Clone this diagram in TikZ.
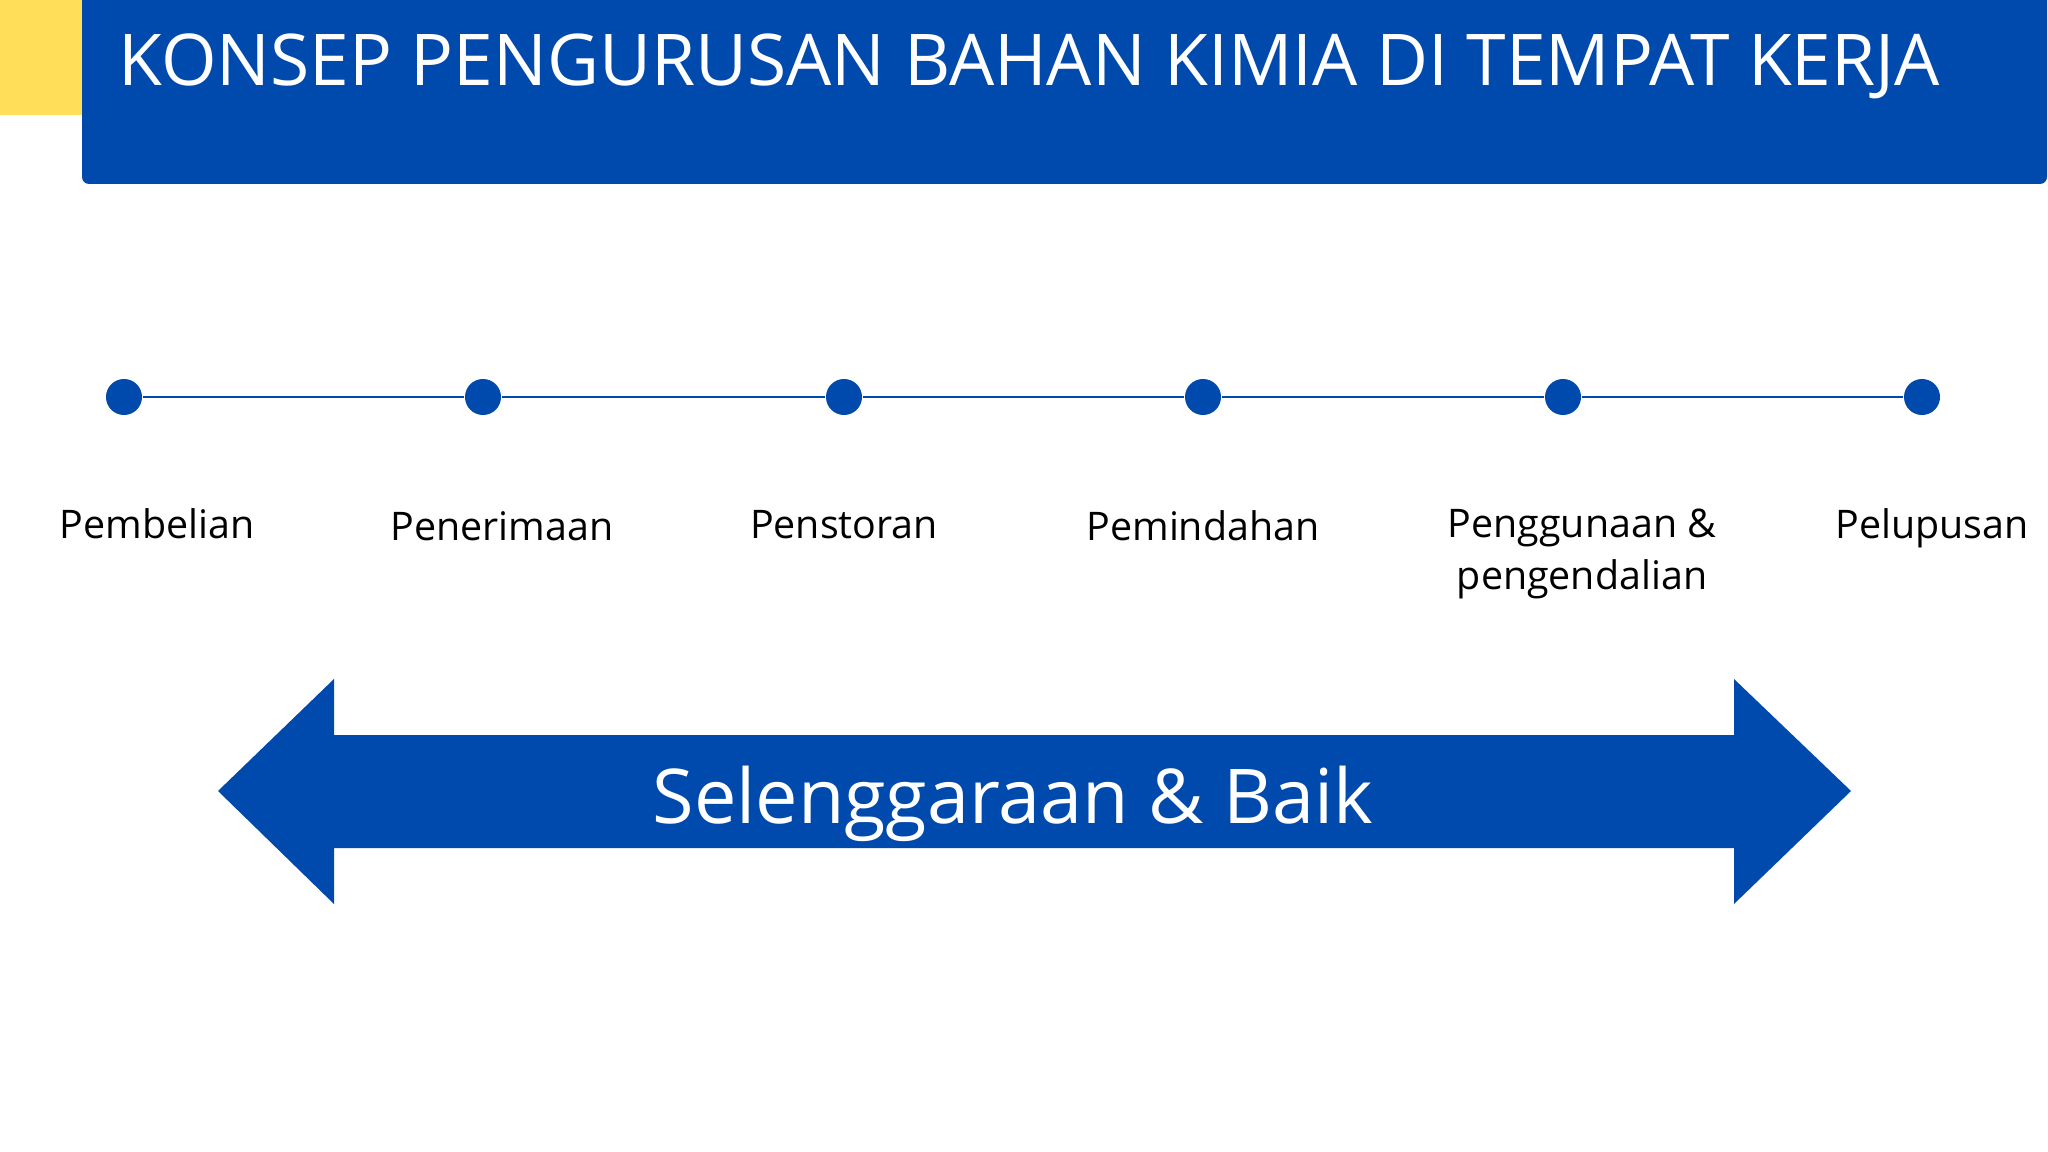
\documentclass[tikz,border=0pt]{standalone}
\usepackage{fontspec}
\setmainfont{Open Sans}
\usetikzlibrary{positioning}
\definecolor{kblue}{RGB}{0,74,173}
\definecolor{kyellow}{RGB}{255,222,89}
\tikzset{
  stagedot/.style={circle, fill=kblue, inner sep=0pt, minimum size=0.36cm},
  stage/.style={font=\fontsize{11.2}{14.8}\selectfont, align=center, inner sep=0pt, anchor=base},
}
\begin{document}
\begin{tikzpicture}[x=0.01cm, y=-0.01cm]
            \useasboundingbox (0,0) rectangle (2048,1152);
            % header
            \fill[kyellow] (0,0) rectangle (90,115);
            \fill[kblue, rounded corners=0.07cm] (82,-10) rectangle (2047,184);
            \node[anchor=base west, inner sep=0pt, text=white, font=\fontsize{20.3}{23}\selectfont] (title) at (118,86) {KONSEP PENGURUSAN BAHAN KIMIA DI TEMPAT KERJA};

            % timeline
            \node[stagedot] (d1) at (124,397) {};
            \node[stagedot] (d2) at (483,397) {};
            \node[stagedot] (d3) at (844,397) {};
            \node[stagedot] (d4) at (1203,397) {};
            \node[stagedot] (d5) at (1563,397) {};
            \node[stagedot] (d6) at (1922,397) {};
            \draw[kblue, line width=0.02cm] (d1) -- (d2);
            \draw[kblue, line width=0.02cm] (d2) -- (d3);
            \draw[kblue, line width=0.02cm] (d3) -- (d4);
            \draw[kblue, line width=0.02cm] (d4) -- (d5);
            \draw[kblue, line width=0.02cm] (d5) -- (d6);

            \node[stage] (l1) at (157,538) {Pembelian};
            \node[stage] (l2) at (502,541) {Penerimaan};
            \node[stage] (l3) at (844,538) {Penstoran};
            \node[stage] (l4) at (1203,541) {Pemindahan};
            \node[stage] (l5) at (1582,590) {Penggunaan \&\\pengendalian};
            \node[stage] (l6) at (1932,538) {Pelupusan};

            % double arrow
            \fill[kblue] (218,791) -- (334,679) -- (334,735) -- (1734,735) -- (1734,679)
              -- (1851,791) -- (1734,904) -- (1734,848) -- (334,848) -- (334,904) -- cycle;
            \node[text=white, inner sep=0pt, anchor=base, font=\fontsize{21.5}{24}\selectfont] (band) at (1013,823) {Selenggaraan \& Baik};
        \end{tikzpicture}
\end{document}
